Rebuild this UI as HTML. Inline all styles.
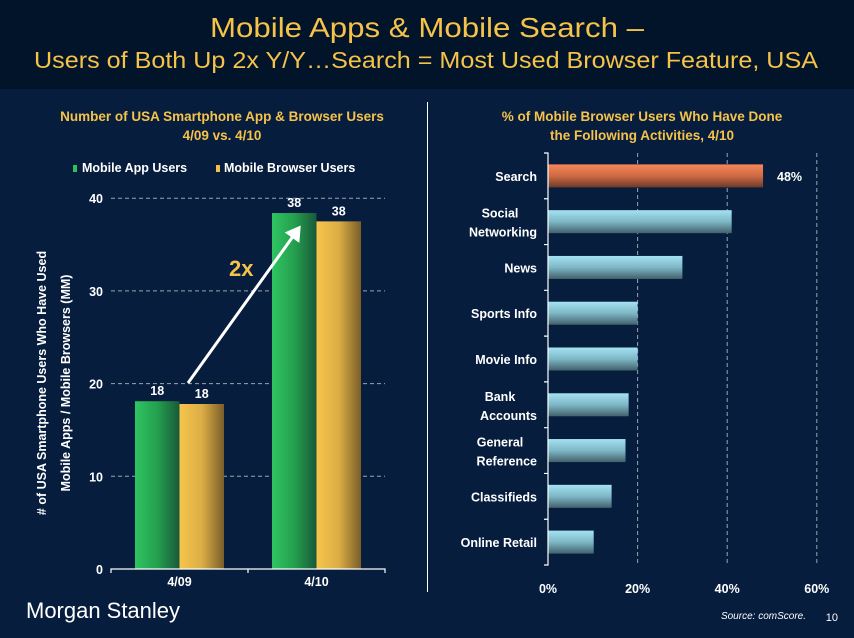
<!DOCTYPE html>
<html><head><meta charset="utf-8"><style>
html,body{margin:0;padding:0;background:#071d3e;}
svg{display:block;font-family:"Liberation Sans",sans-serif;}
</style></head><body>
<svg id="c" width="854" height="638" viewBox="0 0 854 638" xmlns="http://www.w3.org/2000/svg">
<defs>
<linearGradient id="gG" x1="0" x2="1" y1="0" y2="0"><stop offset="0" stop-color="#2fc462"/><stop offset="0.5" stop-color="#24a04e"/><stop offset="1" stop-color="#18593a"/></linearGradient>
<linearGradient id="gY" x1="0" x2="1" y1="0" y2="0"><stop offset="0" stop-color="#f6c54c"/><stop offset="0.5" stop-color="#dcae45"/><stop offset="1" stop-color="#7a5e2a"/></linearGradient>
<linearGradient id="gB" x1="0" x2="0" y1="0" y2="1"><stop offset="0" stop-color="#a4e2f2"/><stop offset="0.5" stop-color="#7eb7c6"/><stop offset="1" stop-color="#42616b"/></linearGradient>
<linearGradient id="gR" x1="0" x2="0" y1="0" y2="1"><stop offset="0" stop-color="#f58659"/><stop offset="0.5" stop-color="#cf6a44"/><stop offset="1" stop-color="#6d3a2a"/></linearGradient>
<marker id="ah" markerWidth="6" markerHeight="6" refX="4" refY="3" orient="auto" markerUnits="strokeWidth"><path d="M0,0 L5,3 L0,6 Z" fill="#fff"/></marker>
</defs>
<rect x="0" y="0" width="854" height="638" fill="#071d3e"/>
<rect x="0" y="0" width="854" height="89" fill="#021429"/>
<text x="427" y="37" text-anchor="middle" font-size="28" fill="#f5c24a" textLength="434" lengthAdjust="spacingAndGlyphs">Mobile Apps &amp; Mobile Search –</text>
<text x="426" y="68" text-anchor="middle" font-size="23" fill="#f5c24a" textLength="784" lengthAdjust="spacingAndGlyphs">Users of Both Up 2x Y/Y…Search = Most Used Browser Feature, USA</text>
<line x1="427.5" y1="102" x2="427.5" y2="592" stroke="#ffffff" stroke-width="1"/>

<text x="222" y="121" text-anchor="middle" font-size="13.5" font-weight="bold" fill="#f5c24a">Number of USA Smartphone App &amp; Browser Users</text>
<text x="222" y="140" text-anchor="middle" font-size="13.5" font-weight="bold" fill="#f5c24a">4/09 vs. 4/10</text>
<g>
<rect x="73" y="165" width="4" height="7" fill="#2fbf5e"/>
<text x="82" y="172" font-size="12.5" font-weight="bold" fill="#fff">Mobile App Users</text>
<rect x="216" y="165" width="4" height="7" fill="#f2c04a"/>
<text x="224" y="172" font-size="12.5" font-weight="bold" fill="#fff">Mobile Browser Users</text>
</g>
<text transform="translate(46,383) rotate(-90)" text-anchor="middle" font-size="12.5" font-weight="bold" fill="#fff">
<tspan x="0" y="0"># of USA Smartphone Users Who Have Used</tspan><tspan x="0" y="24">Mobile Apps / Mobile Browsers (MM)</tspan></text>
<g id="left"></g>
<g id="right"></g>
<text x="26" y="618" font-size="22" fill="#fff" textLength="154" lengthAdjust="spacingAndGlyphs">Morgan Stanley</text>
<text x="806" y="619" text-anchor="end" font-size="10" font-style="italic" fill="#fff">Source: comScore.</text>
<text x="838" y="621" text-anchor="end" font-size="11" fill="#fff">10</text>
</svg>
<script>
const leftCategories = ["4/09", "4/10"];
const appUsers = [18.1, 38.4];
const browserUsers = [17.8, 37.5];
const appLabels = ["18", "38"];
const browserLabels = ["18", "38"];
const leftTicks = [0, 10, 20, 30, 40];

const rightCategories = [["Search"], ["Social", "Networking"], ["News"], ["Sports Info"], ["Movie Info"], ["Bank", "Accounts"], ["General", "Reference"], ["Classifieds"], ["Online Retail"]];
const rightValues = [48, 41, 30, 20, 20, 18, 17.3, 14.2, 10.2];
const rightTicks = [0, 20, 40, 60];

const NS = "http://www.w3.org/2000/svg";
function mk(tag, attrs, parent, txt) {
  const e = document.createElementNS(NS, tag);
  for (const k in attrs) e.setAttribute(k, attrs[k]);
  if (txt !== undefined) e.textContent = txt;
  parent.appendChild(e);
  return e;
}
// LEFT chart
const L = document.getElementById('left');
const yL = v => 569 - v * 9.27;
const axL0 = 111, axL1 = 385, grpW = (axL1 - axL0) / leftCategories.length, barW = 44.5;
leftTicks.forEach(t => {
  if (t > 0) {
    const g = mk('line', {x1: 111, x2: 385, y1: yL(t), y2: yL(t), stroke: '#9aa3b0', 'stroke-dasharray': '4,3', 'stroke-width': 1}, L);
    
    
  }
  const tl = mk('text', {x: 103, y: yL(t) + 5, 'text-anchor': 'end', 'font-size': 12.5, 'font-weight': 'bold', fill: '#fff'}, L, String(t));
  
  
});
leftCategories.forEach((c, i) => {
  const cx = axL0 + grpW * (i + 0.5);
  const b1 = mk('rect', {x: cx - barW, y: yL(appUsers[i]), width: barW, height: yL(0) - yL(appUsers[i]), fill: 'url(#gG)'}, L);
  
  
  const b2 = mk('rect', {x: cx, y: yL(browserUsers[i]), width: barW, height: yL(0) - yL(browserUsers[i]), fill: 'url(#gY)'}, L);
  
  
  const l1 = mk('text', {x: cx - barW / 2, y: yL(appUsers[i]) - 6, 'text-anchor': 'middle', 'font-size': 12.5, 'font-weight': 'bold', fill: '#fff'}, L, appLabels[i]);
  
  
  const l2 = mk('text', {x: cx + barW / 2, y: yL(browserUsers[i]) - 6, 'text-anchor': 'middle', 'font-size': 12.5, 'font-weight': 'bold', fill: '#fff'}, L, browserLabels[i]);
  
  
  const xl = mk('text', {x: cx, y: 586, 'text-anchor': 'middle', 'font-size': 12.5, 'font-weight': 'bold', fill: '#fff'}, L, c);
  
  
});
const xa = mk('path', {d: `M${axL0},573 V569 H${axL1} V573 M${axL0 + grpW},569 V573`, stroke: '#fff', fill: 'none', 'stroke-width': 1.2}, L);


const arr = mk('line', {x1: 188, y1: 383, x2: 299, y2: 228, stroke: '#fff', 'stroke-width': 3, 'marker-end': 'url(#ah)'}, L);


const tx = mk('text', {x: 229, y: 276, 'font-size': 22, 'font-weight': 'bold', fill: '#f5c24a'}, L, '2x');



// RIGHT chart
const R = document.getElementById('right');
const t1 = mk('text', {x: 642, y: 121, 'text-anchor': 'middle', 'font-size': 13.5, 'font-weight': 'bold', fill: '#f5c24a'}, R, '% of Mobile Browser Users Who Have Done');


const t2 = mk('text', {x: 642, y: 140, 'text-anchor': 'middle', 'font-size': 13.5, 'font-weight': 'bold', fill: '#f5c24a'}, R, 'the Following Activities, 4/10');


const xR = v => 548 + v * 4.48;
const rTop = 153, rBot = 565, band = (rBot - rTop) / rightCategories.length;
rightTicks.forEach(t => {
  if (t > 0) {
    const g = mk('line', {x1: xR(t), x2: xR(t), y1: rTop, y2: 564, stroke: '#9aa3b0', 'stroke-dasharray': '4,3', 'stroke-width': 1}, R);
    
    
  }
  const tl = mk('text', {x: xR(t), y: 593, 'text-anchor': 'middle', 'font-size': 12.5, 'font-weight': 'bold', fill: '#fff'}, R, t + '%');
  
  
});
rightCategories.forEach((c, i) => {
  const cy = rTop + band * (i + 0.5);
  const isS = i === 0;
  const b = mk('rect', {x: 548, y: cy - 11.5, width: xR(rightValues[i]) - 548, height: 23, fill: isS ? 'url(#gR)' : 'url(#gB)'}, R);
  
  
  const lab = mk('text', {'text-anchor': 'middle', 'font-size': 12.5, 'font-weight': 'bold', fill: '#fff'}, R);
  
  
  if (c.length === 1) {
    lab.setAttribute('text-anchor', 'end');
    mk('tspan', {x: 537, y: cy + 5}, lab, c[0]);
  } else {
    mk('tspan', {x: 500, y: cy - 4}, lab, c[0]);
    mk('tspan', {x: 537, y: cy + 15, 'text-anchor': 'end'}, lab, c[1]);
  }
  if (isS) {
    const v = mk('text', {x: xR(rightValues[i]) + 14, y: cy + 5, 'font-size': 12.5, 'font-weight': 'bold', fill: '#fff'}, R, rightValues[i] + '%');
    
    
  }
});
let d = `M544,${rTop} H548 V${rBot} H544`;
for (let i = 1; i < rightCategories.length; i++) d += ` M544,${rTop + band * i} H548`;
const ya = mk('path', {d: d, stroke: '#fff', fill: 'none', 'stroke-width': 1.2}, R);


</script>
</body></html>
